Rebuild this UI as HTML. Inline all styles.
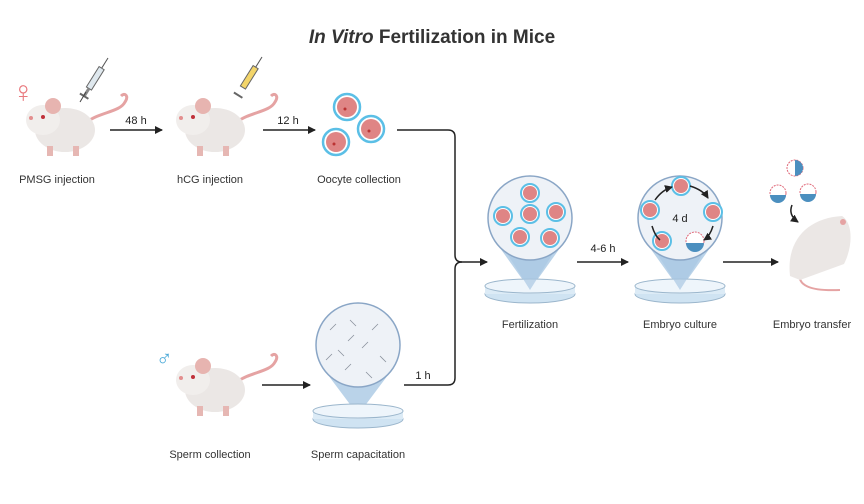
<!DOCTYPE html>
<html><head><meta charset="utf-8"><style>
html,body{margin:0;padding:0;background:#fff;}
svg{display:block;font-family:"Liberation Sans",sans-serif;}
</style></head><body>
<svg width="864" height="504" viewBox="0 0 864 504" xmlns="http://www.w3.org/2000/svg">
<defs>
<marker id="ah" markerWidth="8" markerHeight="8" refX="7" refY="4" orient="auto" markerUnits="userSpaceOnUse"><path d="M0,0 L8,4 L0,8 z" fill="#222"/></marker>
<g id="mouse">
 <path d="M62,30 C75,20 95,20 100,10 C104,4 100,0 96,4" fill="none" stroke="#e5a3a3" stroke-width="3"/>
 <ellipse cx="40" cy="38" rx="30" ry="22" fill="#ebe7e5"/>
 <ellipse cx="18" cy="28" rx="17" ry="15" fill="#f1eeec"/>
 <circle cx="28" cy="14" r="8" fill="#e7b4b0"/>
 <circle cx="6" cy="26" r="2" fill="#e38e8e"/>
 <circle cx="18" cy="25" r="2" fill="#c0303a"/>
 <rect x="22" y="54" width="6" height="10" fill="#e6b7b3"/>
 <rect x="48" y="54" width="6" height="10" fill="#e6b7b3"/>
</g>
<g id="syr">
 <line x1="0" y1="0" x2="0" y2="12" stroke="#555" stroke-width="1"/>
 <rect x="-3" y="12" width="6" height="24" fill="#dfe8ee" stroke="#666" stroke-width="1"/>
 <rect x="-1.5" y="36" width="3" height="8" fill="#888"/>
 <rect x="-5" y="44" width="10" height="2" fill="#666"/>
</g>
<g id="egg"><circle r="13" fill="#fff" stroke="#5bbfe6" stroke-width="2.5"/><circle r="10" fill="#df8585"/><circle cx="-2" cy="2" r="1.5" fill="#b33"/></g>
<g id="segg"><circle r="9" fill="#fff" stroke="#5bbfe6" stroke-width="2"/><circle r="7" fill="#df8585"/></g>
<g id="dish">
 <ellipse cx="0" cy="6" rx="45" ry="9" fill="#cfe3f2" stroke="#9bb6cc"/>
 <rect x="-45" y="-2" width="90" height="8" fill="#dcebf6"/>
 <ellipse cx="0" cy="-2" rx="45" ry="7" fill="#eef5fb" stroke="#9bb6cc"/>
</g>
</defs>

<text x="432" y="43" text-anchor="middle" font-size="19" font-weight="bold" fill="#333"><tspan font-style="italic">In Vitro</tspan> Fertilization in Mice</text>

<!-- mouse 1 -->
<text x="12" y="102" font-size="30" fill="#e9797e">♀</text>
<use href="#mouse" x="25" y="92"/>
<use href="#syr" transform="translate(108,58) rotate(32) scale(1,1)"/>
<line x1="80" y1="102" x2="86" y2="92" stroke="#444"/>
<line x1="110" y1="130" x2="162" y2="130" stroke="#222" stroke-width="1.5" marker-end="url(#ah)"/>
<text x="136" y="124" text-anchor="middle" font-size="11" fill="#222">48 h</text>
<use href="#mouse" x="175" y="92"/>
<g transform="translate(262,57) rotate(32)"><line x1="0" y1="0" x2="0" y2="12" stroke="#555"/><rect x="-3" y="12" width="6" height="24" fill="#f3d56a" stroke="#666"/><rect x="-5" y="44" width="10" height="2" fill="#666"/></g>
<line x1="263" y1="130" x2="315" y2="130" stroke="#222" stroke-width="1.5" marker-end="url(#ah)"/>
<text x="288" y="124" text-anchor="middle" font-size="11" fill="#222">12 h</text>
<use href="#egg" x="347" y="107"/><use href="#egg" x="336" y="142"/><use href="#egg" x="371" y="129"/>

<text x="57" y="183" text-anchor="middle" font-size="11" fill="#333">PMSG injection</text>
<text x="210" y="183" text-anchor="middle" font-size="11" fill="#333">hCG injection</text>
<text x="359" y="183" text-anchor="middle" font-size="11" fill="#333">Oocyte collection</text>

<path d="M397,130 H448 Q455,130 455,137 V255 Q455,262 462,262 H487" fill="none" stroke="#222" stroke-width="1.5" marker-end="url(#ah)"/>
<path d="M404,385 H448 Q455,385 455,378 V269 Q455,262 462,262" fill="none" stroke="#222" stroke-width="1.5"/>
<text x="423" y="379" text-anchor="middle" font-size="11" fill="#222">1 h</text>

<!-- fertilization -->
<path d="M500,248 L530,290 L560,248 z" fill="#a9c8e3" opacity="0.8"/>
<use href="#dish" x="530" y="288"/>
<path d="M508,255 L530,290 L552,255 z" fill="#a9c8e3" opacity="0.7"/>
<circle cx="530" cy="218" r="42" fill="#eef2f7" stroke="#8aa6c6" stroke-width="1.5"/>
<use href="#segg" x="530" y="193"/><use href="#segg" x="503" y="216"/><use href="#segg" x="530" y="214"/><use href="#segg" x="556" y="212"/><use href="#segg" x="520" y="237"/><use href="#segg" x="550" y="238"/>
<text x="530" y="328" text-anchor="middle" font-size="11" fill="#333">Fertilization</text>
<line x1="577" y1="262" x2="628" y2="262" stroke="#222" stroke-width="1.5" marker-end="url(#ah)"/>
<text x="603" y="252" text-anchor="middle" font-size="11" fill="#222">4-6 h</text>

<!-- embryo culture -->
<path d="M650,248 L680,290 L710,248 z" fill="#a9c8e3" opacity="0.8"/>
<use href="#dish" x="680" y="288"/>
<path d="M658,255 L680,290 L702,255 z" fill="#a9c8e3" opacity="0.7"/>
<circle cx="680" cy="218" r="42" fill="#eef2f7" stroke="#8aa6c6" stroke-width="1.5"/>
<use href="#segg" x="681" y="186"/><use href="#segg" x="713" y="212"/><use href="#segg" x="650" y="210"/><use href="#segg" x="662" y="241"/>
<circle cx="695" cy="241" r="9" fill="#fff" stroke="#e06a7a" stroke-dasharray="2 1"/><path d="M686,243 A9,9 0 0 0 704,243 Z" fill="#4b8fbf"/>
<path d="M690,186 Q703,190 708,198" fill="none" stroke="#222" stroke-width="1.5" marker-end="url(#ah)"/>
<path d="M713,226 Q710,236 704,240" fill="none" stroke="#222" stroke-width="1.5" marker-end="url(#ah)"/>
<path d="M652,226 Q655,236 660,240" fill="none" stroke="#222" stroke-width="1.5"/>
<path d="M655,200 Q662,190 672,187" fill="none" stroke="#222" stroke-width="1.5" marker-end="url(#ah)"/>
<text x="680" y="222" text-anchor="middle" font-size="11" fill="#222">4 d</text>
<text x="680" y="328" text-anchor="middle" font-size="11" fill="#333">Embryo culture</text>
<line x1="723" y1="262" x2="778" y2="262" stroke="#222" stroke-width="1.5" marker-end="url(#ah)"/>

<!-- embryo transfer -->
<g fill="#fff" stroke="#e06a7a" stroke-dasharray="2 1">
<circle cx="795" cy="168" r="8"/><circle cx="778" cy="193" r="8"/><circle cx="808" cy="192" r="8"/></g>
<path d="M795,160 A8,8 0 0 1 795,176 Z" fill="#4b8fbf"/>
<path d="M770,195 A8,8 0 0 0 786,195 Z" fill="#4b8fbf"/>
<path d="M800,194 A8,8 0 0 0 816,194 Z" fill="#4b8fbf"/>
<path d="M792,205 Q788,215 798,222" fill="none" stroke="#222" stroke-width="1.5" marker-end="url(#ah)"/>
<path d="M800,272 Q795,292 840,290" fill="none" stroke="#e5a3a3" stroke-width="2"/>
<path d="M790,276 C786,240 808,218 842,216 C852,222 854,244 844,264 L800,280 Z" fill="#ebe7e5"/>
<circle cx="843" cy="222" r="3" fill="#e5a3a3"/>
<text x="812" y="328" text-anchor="middle" font-size="11" fill="#333">Embryo transfer</text>

<!-- sperm -->
<text x="156" y="366" font-size="22" fill="#4aa9d8">♂</text>
<use href="#mouse" x="175" y="352"/>
<line x1="262" y1="385" x2="310" y2="385" stroke="#222" stroke-width="1.5" marker-end="url(#ah)"/>
<path d="M328,375 L358,415 L388,375 z" fill="#a9c8e3" opacity="0.8"/>
<use href="#dish" x="358" y="413"/>
<circle cx="358" cy="345" r="42" fill="#eef2f7" stroke="#8aa6c6" stroke-width="1.5"/>
<g stroke="#8a929c" stroke-width="0.8">
<line x1="330" y1="330" x2="336" y2="324"/><line x1="350" y1="320" x2="356" y2="326"/><line x1="372" y1="330" x2="378" y2="324"/><line x1="338" y1="350" x2="344" y2="356"/><line x1="362" y1="348" x2="368" y2="342"/><line x1="380" y1="356" x2="386" y2="362"/><line x1="345" y1="370" x2="351" y2="364"/><line x1="366" y1="372" x2="372" y2="378"/><line x1="326" y1="360" x2="332" y2="354"/><line x1="354" y1="335" x2="348" y2="341"/>
</g>
<text x="210" y="458" text-anchor="middle" font-size="11" fill="#333">Sperm collection</text>
<text x="358" y="458" text-anchor="middle" font-size="11" fill="#333">Sperm capacitation</text>
</svg>
</body></html>
